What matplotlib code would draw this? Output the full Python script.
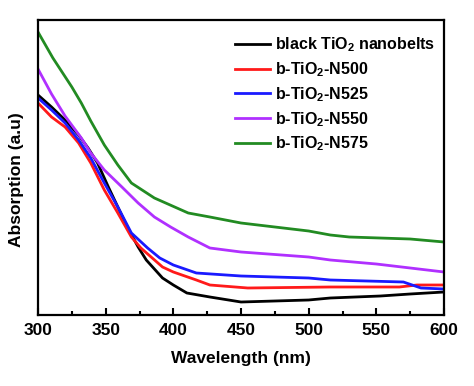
import matplotlib
matplotlib.use("Agg")
import matplotlib.pyplot as plt

plt.rcParams['font.family'] = ['Liberation Sans', 'DejaVu Sans']
plt.rcParams['font.weight'] = 'bold'
plt.rcParams['mathtext.fontset'] = 'custom'
plt.rcParams['mathtext.rm'] = 'Liberation Sans:bold'
plt.rcParams['mathtext.bf'] = 'Liberation Sans:bold'
plt.rcParams['mathtext.default'] = 'bf'

labels = ["black TiO$_2$ nanobelts", "b-TiO$_2$-N500", "b-TiO$_2$-N525",
          "b-TiO$_2$-N550", "b-TiO$_2$-N575"]
colors = ["#000000", "#ff1a1a", "#1a1aff", "#b030ff", "#228b22"]

black_x = [300, 310, 320, 330, 337, 344, 352, 359, 366, 374, 380, 392, 400, 410, 427, 450, 500, 516, 553, 575, 600]
black_y = [220, 208, 195, 180, 167, 152, 128, 108, 88, 68, 55, 37, 30, 22, 18, 13, 15, 17, 19, 21, 23]

red_x = [300, 310, 320, 330, 339, 349, 359, 369, 376, 392, 400, 417, 427, 455, 516, 567, 580, 600]
red_y = [212, 198, 188, 172, 152, 125, 102, 78, 67, 48, 43, 35, 30, 27, 28, 28, 30, 30]

blue_x = [300, 310, 320, 330, 339, 349, 359, 369, 381, 390, 400, 417, 450, 500, 516, 570, 583, 600]
blue_y = [217, 205, 192, 175, 157, 132, 108, 82, 67, 57, 50, 42, 39, 37, 35, 33, 27, 26]

purple_x = [300, 310, 320, 332, 339, 349, 362, 374, 386, 398, 411, 427, 450, 500, 516, 550, 600]
purple_y = [246, 221, 199, 177, 162, 145, 128, 112, 98, 88, 78, 67, 63, 58, 55, 51, 43]

green_x = [300, 311, 325, 332, 339, 349, 359, 369, 386, 411, 427, 450, 500, 516, 530, 575, 600]
green_y = [283, 257, 228, 212, 194, 170, 150, 132, 117, 102, 98, 92, 84, 80, 78, 76, 73]

series = [(black_x, black_y), (red_x, red_y), (blue_x, blue_y),
          (purple_x, purple_y), (green_x, green_y)]

fig = plt.figure(figsize=(4.74, 3.86), dpi=100)
ax = fig.add_axes([38/474, 1-315/386, (444-38)/474, (315-20)/386])

for (x, y), c, lab in zip(series, colors, labels):
    ax.plot(x, y, color=c, lw=2.0, label=lab)

ax.set_xlim(300, 600)
ax.set_ylim(0, 295)
ax.set_xticks([300, 350, 400, 450, 500, 550, 600])
ax.set_xticks([325, 375, 425, 475, 525, 575], minor=True)
ax.set_yticks([])
ax.tick_params(axis='x', which='major', direction='in', length=5, width=1.5, labelsize=12.5, pad=6)
ax.tick_params(axis='x', which='minor', direction='in', length=3, width=1.5)
for lab in ax.get_xticklabels():
    lab.set_fontweight('bold')
for s in ax.spines.values():
    s.set_linewidth(1.6)

ax.set_xlabel("Wavelength (nm)", fontsize=12.5, fontweight='bold', labelpad=9)
ax.set_ylabel("Absorption (a.u)", fontsize=12.5, fontweight='bold')
ax.yaxis.set_label_coords(-0.035, 0.46)

leg = ax.legend(loc='upper right', frameon=False, fontsize=11.5, handlelength=2.2,
                handletextpad=0.35, labelspacing=0.38, borderaxespad=0.0,
                bbox_to_anchor=(0.995, 0.969))
for t in leg.get_texts():
    t.set_fontweight('bold')

fig.savefig("out.png", dpi=100)
